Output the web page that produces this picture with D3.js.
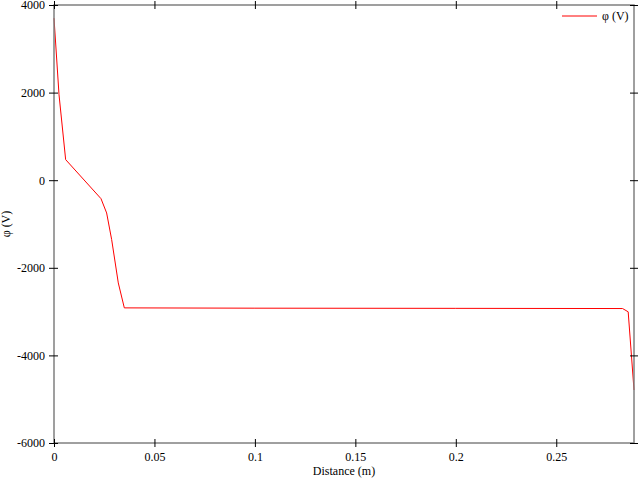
<!DOCTYPE html>
<html>
<head>
<meta charset="utf-8">
<script src="https://cdn.jsdelivr.net/npm/d3@7"></script>
<style>
  body { margin: 0; background: #fff; }
  svg text { font-family: "Liberation Serif", "DejaVu Serif", serif; font-size: 12px; fill: #000; }
</style>
</head>
<body>
<svg id="chart" width="640" height="480"></svg>
<script>
// distance (m) and potential (V)
const distance = [0, 0.0025, 0.0058, 0.0234, 0.0262, 0.0287, 0.032, 0.035, 0.1, 0.2, 0.283, 0.2858, 0.2887];
const phi = [3700, 1950, 470, -422, -748, -1357, -2345, -2915, -2922, -2926, -2930, -3005, -4790];
const xTicks = [0, 0.05, 0.1, 0.15, 0.2, 0.25];
const yTicks = [-6000, -4000, -2000, 0, 2000, 4000];

const svg = d3.select("#chart");
const width = 640, height = 480;
const margin = { top: 5, right: 6, bottom: 37, left: 54 };
const innerWidth = width - margin.left - margin.right;
const innerHeight = height - margin.top - margin.bottom;

const x = d3.scaleLinear().domain([0, 0.2887]).range([0, innerWidth]);
const y = d3.scaleLinear().domain([-6000, 4000]).range([innerHeight, 0]);

const g = svg.append("g").attr("transform", `translate(${margin.left},${margin.top})`);

const data = distance.map((d, i) => ({ x: d, y: phi[i] }));

g.append("path")
    .datum(data)
    .attr("fill", "none")
    .attr("stroke", "#ff0000")
    .attr("stroke-width", 1)
    .attr("d", d3.line().x(d => x(d.x)).y(d => y(d.y)));

// frame
g.append("rect")
    .attr("width", innerWidth)
    .attr("height", innerHeight)
    .attr("fill", "none")
    .attr("stroke", "#808080")
    .attr("stroke-width", 1.5);

const fmt = d => d === 0 ? "0" : String(d);

// axes: ticks cross the frame, mirrored on top and right
const styleAxis = sel => {
    sel.attr("font-family", "Liberation Serif, serif").attr("font-size", 12);
    sel.select(".domain").remove();
    sel.selectAll(".tick line").attr("stroke", "#000");
    sel.selectAll(".tick text").attr("fill", "#000");
};
const noLabels = sel => sel.selectAll(".tick text").remove();

g.append("g")
    .attr("transform", `translate(0,${innerHeight})`)
    .call(d3.axisBottom(x).tickValues(xTicks).tickFormat(fmt).tickSizeInner(4).tickSizeOuter(0).tickPadding(5))
    .call(styleAxis)
    .selectAll(".tick line").attr("y1", -4);

g.append("g")
    .call(d3.axisTop(x).tickValues(xTicks).tickSizeInner(4).tickSizeOuter(0))
    .call(styleAxis)
    .call(noLabels)
    .selectAll(".tick line").attr("y1", 4);

g.append("g")
    .call(d3.axisLeft(y).tickValues(yTicks).tickFormat(fmt).tickSizeInner(5).tickSizeOuter(0).tickPadding(4))
    .call(styleAxis)
    .selectAll(".tick line").attr("x1", 4);

g.append("g")
    .attr("transform", `translate(${innerWidth},0)`)
    .call(d3.axisRight(y).tickValues(yTicks).tickSizeInner(4).tickSizeOuter(0))
    .call(styleAxis)
    .call(noLabels)
    .selectAll(".tick line").attr("x1", -4);

// axis labels
svg.append("text")
    .attr("text-anchor", "middle")
    .attr("x", margin.left + innerWidth / 2)
    .attr("y", height - 5)
    .text("Distance (m)");

svg.append("text")
    .attr("text-anchor", "middle")
    .attr("transform", "rotate(-90)")
    .attr("x", -(margin.top + innerHeight / 2))
    .attr("y", 10)
    .text("φ (V)");

// legend
const legend = svg.append("g").attr("transform", `translate(562,16)`);
legend.append("line")
    .attr("x1", 0).attr("x2", 35)
    .attr("stroke", "#ff0000").attr("stroke-width", 1);
legend.append("text")
    .attr("x", 40).attr("y", 4)
    .text("φ (V)");
</script>
</body>
</html>
